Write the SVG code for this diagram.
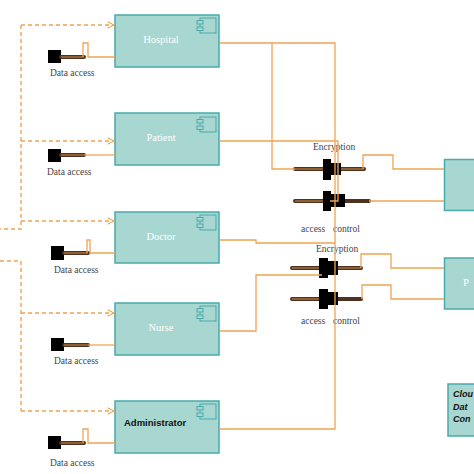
<svg xmlns="http://www.w3.org/2000/svg" width="474" height="474" viewBox="0 0 474 474">
<defs>
<style>
.box{fill:#a8d6d1;stroke:#48aaaa;stroke-width:1.5}
.ico{fill:#a8d6d1;stroke:#48aaaa;stroke-width:1}
.lbl{font-family:"Liberation Serif",serif;font-size:10.5px;fill:#fff;text-anchor:middle}
.cap{font-family:"Liberation Serif",serif;font-size:9.5px;fill:#444}
.line{fill:none;stroke:#f0a454;stroke-width:1.3}
.dash{fill:none;stroke:#f0a454;stroke-width:1.4;stroke-dasharray:4 3}
.bar{stroke:#4f3120;stroke-width:4;stroke-linecap:round}
.barc{stroke:#f0a454;stroke-width:0.8}
.blk{fill:#000}
</style>
<marker id="arr" viewBox="0 0 10 10" refX="9" refY="5" markerWidth="8" markerHeight="8" orient="auto" markerUnits="userSpaceOnUse">
<path d="M1,1 L9,5 L1,9" fill="none" stroke="#f0a454" stroke-width="1.3"/>
</marker>
<g id="icon"><rect class="ico" x="3" y="0" width="16" height="15"/><rect class="ico" x="0" y="2.5" width="6" height="3.5"/><rect class="ico" x="0" y="9" width="6" height="3.5"/></g>
</defs>
<rect width="474" height="474" fill="#fff"/>

<g id="hospital"><rect class="box" x="115" y="15" width="104" height="52"/><use href="#icon" x="197" y="18"/><text class="lbl" x="161" y="43">Hospital</text></g>
<g id="patient"><rect class="box" x="115" y="113" width="104" height="52"/><use href="#icon" x="197" y="117"/><text class="lbl" x="161" y="141">Patient</text></g>
<g id="doctor"><rect class="box" x="115" y="212" width="104" height="51"/><use href="#icon" x="197" y="215"/><text class="lbl" x="161" y="240">Doctor</text></g>
<g id="nurse"><rect class="box" x="115" y="303" width="104" height="52"/><use href="#icon" x="197" y="306"/><text class="lbl" x="161" y="331">Nurse</text></g>
<g id="administrator"><rect class="box" x="115" y="401" width="104" height="52"/><use href="#icon" x="197" y="404"/><text x="124" y="426" font-family="'Liberation Sans',sans-serif" font-size="9.5" font-weight="bold" fill="#111">Administrator</text></g>
<g id="server1"><rect class="box" x="444.5" y="159.5" width="40" height="51"/></g>
<g id="server2"><rect class="box" x="444.5" y="258" width="40" height="51"/><text x="463" y="286" font-family="'Liberation Serif',serif" font-size="10.5" fill="#fff">P</text></g>
<g id="cloud"><rect class="box" x="448" y="384" width="40" height="52"/><g font-family="'Liberation Sans',sans-serif" font-size="9" font-weight="bold" font-style="italic" fill="#111"><text x="453" y="397">Clou</text><text x="453" y="410">Dat</text><text x="453" y="422">Con</text></g></g>

<g id="data-access">
<rect class="blk" x="48" y="50" width="13" height="13"/><line class="bar" x1="61" y1="57" x2="84" y2="57"/><line class="barc" x1="61" y1="57" x2="84" y2="57"/>
<text class="cap" x="50" y="76">Data access</text>
<rect class="blk" x="48" y="149" width="13" height="13"/><line class="bar" x1="61" y1="155" x2="84" y2="155"/><line class="barc" x1="61" y1="155" x2="84" y2="155"/>
<text class="cap" x="47" y="175">Data access</text>
<rect class="blk" x="51" y="246" width="13" height="14"/><line class="bar" x1="64" y1="253" x2="88" y2="253"/><line class="barc" x1="64" y1="253" x2="88" y2="253"/>
<text class="cap" x="54" y="273">Data access</text>
<rect class="blk" x="51" y="338" width="13" height="13"/><line class="bar" x1="64" y1="345" x2="88" y2="345"/><line class="barc" x1="64" y1="345" x2="88" y2="345"/>
<text class="cap" x="54" y="364">Data access</text>
<rect class="blk" x="48" y="436" width="13" height="13"/><line class="bar" x1="61" y1="443" x2="84" y2="443"/><line class="barc" x1="61" y1="443" x2="84" y2="443"/>
<text class="cap" x="50" y="466">Data access</text>
</g>

<g id="encryption-plugs">
<line class="bar" x1="295" y1="169" x2="364" y2="169"/><line class="barc" x1="295" y1="169" x2="364" y2="169"/>
<rect class="blk" x="323" y="159" width="8" height="21"/><rect class="blk" x="331" y="163" width="10" height="12"/>
<line class="bar" x1="295" y1="201" x2="369" y2="201"/><line class="barc" x1="295" y1="201" x2="330" y2="201"/>
<rect class="blk" x="323" y="191" width="8" height="20"/><rect class="blk" x="331" y="194" width="14" height="13"/>
<line class="bar" x1="292" y1="268" x2="361" y2="268"/><line class="barc" x1="292" y1="268" x2="361" y2="268"/>
<rect class="blk" x="319" y="258" width="9" height="20"/><rect class="blk" x="328" y="261" width="10" height="14"/>
<line class="bar" x1="292" y1="299" x2="361" y2="299"/><line class="barc" x1="292" y1="299" x2="330" y2="299"/>
<rect class="blk" x="319" y="289" width="9" height="20"/><rect class="blk" x="328" y="292" width="10" height="13"/>
<text class="cap" x="313" y="150">Encryption</text>
<text class="cap" x="301" y="232">access</text><text class="cap" x="333" y="232">control</text>
<text class="cap" x="316" y="252">Encryption</text>
<text class="cap" x="301" y="324">access</text><text class="cap" x="333" y="324">control</text>
</g>

<g id="connectors">
<polyline class="dash" points="21,25 21,229 0,229"/>
<polyline class="dash" points="0,261 21,261 21,411"/>
<line class="dash" x1="21" y1="25" x2="114" y2="25" marker-end="url(#arr)"/>
<line class="dash" x1="21" y1="141" x2="114" y2="141" marker-end="url(#arr)"/>
<line class="dash" x1="21" y1="221" x2="114" y2="221" marker-end="url(#arr)"/>
<line class="dash" x1="21" y1="313" x2="114" y2="313" marker-end="url(#arr)"/>
<line class="dash" x1="21" y1="411" x2="114" y2="411" marker-end="url(#arr)"/>
<polyline class="line" points="115,57 88,57 88,43 83,43 83,57"/>
<line class="line" x1="84" y1="155" x2="115" y2="155"/>
<polyline class="line" points="115,253 90,253 90,240 87,240 87,253"/>
<line class="line" x1="88" y1="345" x2="115" y2="345"/>
<polyline class="line" points="115,443 88,443 88,429 83,429 83,443"/>
<polyline class="line" points="219,43 335,43 335,429 219,429"/>
<polyline class="line" points="272,43 272,169 295,169"/>
<polyline class="line" points="219,141 338,141 338,201 330,201"/>
<polyline class="line" points="219,240 256,240 256,243 335,243"/>
<polyline class="line" points="219,331 256,331 256,275 322,275"/>
<polyline class="line" points="363,169 363,155 393,155 393,169 444,169"/>
<line class="line" x1="369" y1="201" x2="444" y2="201"/>
<polyline class="line" points="361,268 361,254 391,254 391,268 444,268"/>
<polyline class="line" points="362,299 362,285 391,285 391,299 444,299"/>
</g>
</svg>
